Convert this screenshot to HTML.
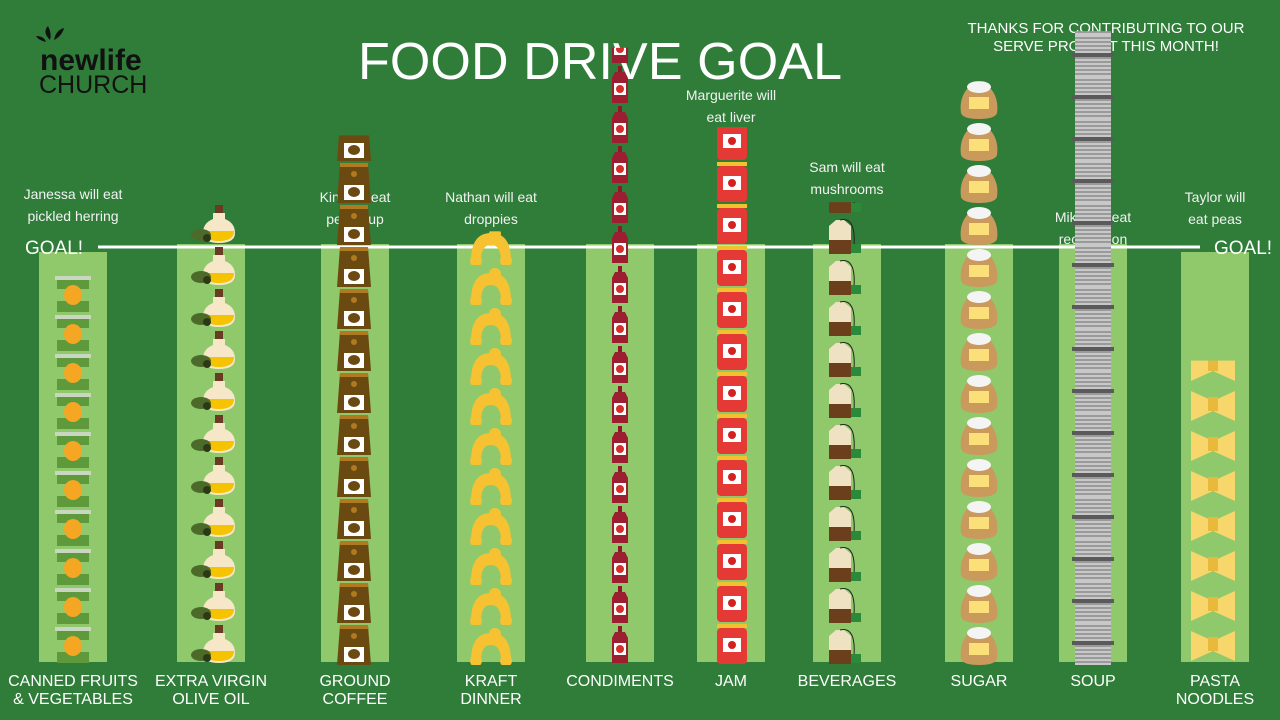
<!DOCTYPE html>
<html><head><meta charset="utf-8"><style>
html,body{margin:0;padding:0;background:#2f7d39;}
svg{display:block;}
text{font-family:"Liberation Sans",sans-serif;}
</style></head><body>
<svg id="chart" width="1280" height="720" viewBox="0 0 1280 720" xmlns="http://www.w3.org/2000/svg">
<defs>
 <pattern id="p0" patternUnits="userSpaceOnUse" width="68" height="39" y="0"><rect x="18" y="3" width="32" height="34" fill="#5e9a3c"/><rect x="18" y="14" width="32" height="12" fill="#8fc96b"/><ellipse cx="34" cy="20" rx="9" ry="10" fill="#f5a623"/><rect x="16" y="1" width="36" height="4" fill="#c9d6c0"/></pattern>
 <pattern id="p1" patternUnits="userSpaceOnUse" width="68" height="42"><rect x="38" y="2" width="8" height="8" fill="#6b3a22"/><path d="M36 10h12v6q10 4 10 14q0 10 -16 10q-16 0 -16 -10q0 -10 10 -14z" fill="#f6e7c8"/><path d="M27 28h30q0 10 -15 10q-15 0 -15 -10z" fill="#f5c300"/><ellipse cx="24" cy="32" rx="10" ry="6" fill="#4c6b2a"/><circle cx="30" cy="35" r="4" fill="#2b3a14"/></pattern>
 <pattern id="p2" patternUnits="userSpaceOnUse" width="68" height="42"><path d="M19 2h28l3 40h-34z" fill="#6b4a12"/><rect x="19" y="2" width="28" height="4" fill="#b07a20"/><circle cx="33" cy="13" r="3" fill="#b07a20"/><rect x="23" y="24" width="20" height="15" fill="#fff"/><ellipse cx="33" cy="31" rx="6" ry="5" fill="#6b4a12"/></pattern>
 <pattern id="p3" patternUnits="userSpaceOnUse" width="68" height="40"><path d="M14 36q0 -28 20 -28q20 0 20 28h-10q0 -16 -10 -16q-10 0 -10 16z" fill="#f6c232"/><circle cx="19" cy="36" r="6" fill="#f6c232"/><circle cx="49" cy="36" r="6" fill="#f6c232"/><circle cx="38" cy="9" r="6" fill="#f6c232"/></pattern>
 <pattern id="p4" patternUnits="userSpaceOnUse" width="68" height="40"><rect x="32" y="1" width="4" height="6" fill="#8b1a2b"/><path d="M29 7h10l3 6v25h-16v-25z" fill="#9c1f31"/><rect x="28" y="18" width="12" height="12" fill="#fff"/><circle cx="34" cy="24" r="4" fill="#d62c2c"/></pattern>
 <pattern id="p5" patternUnits="userSpaceOnUse" width="68" height="42"><rect x="20" y="1" width="30" height="4" fill="#f2c12e"/><rect x="20" y="5" width="30" height="36" rx="4" fill="#e53935"/><rect x="26" y="15" width="18" height="14" fill="#fff"/><circle cx="35" cy="22" r="4" fill="#d32020"/></pattern>
 <pattern id="p6" patternUnits="userSpaceOnUse" width="68" height="41"><path d="M16 12l7 -6h8l7 6v28h-22z" fill="#efe2c2"/><rect x="16" y="26" width="22" height="14" fill="#6b3f1c"/><path d="M27 6q16 -4 14 26" stroke="#222" fill="none" stroke-width="1"/><rect x="38" y="30" width="10" height="9" fill="#2a8a3a"/></pattern>
 <pattern id="p7" patternUnits="userSpaceOnUse" width="68" height="42"><path d="M22 12h24q8 10 6 24q-2 6 -18 6q-16 0 -18 -6q-2 -14 6 -24z" fill="#c99a5c"/><ellipse cx="34" cy="10" rx="12" ry="6" fill="#f4f4f4"/><rect x="24" y="20" width="20" height="12" fill="#fbe07a"/></pattern>
 <pattern id="p8" patternUnits="userSpaceOnUse" width="68" height="42"><rect x="16" y="0" width="36" height="42" fill="#9a9a9a"/><rect x="16" y="0" width="36" height="42" fill="url(#stripes)"/><rect x="13" y="18" width="42" height="4" fill="#5a5a5a"/></pattern>
 <pattern id="stripes" patternUnits="userSpaceOnUse" width="4" height="4"><rect width="4" height="2" fill="#c8c8c8"/></pattern>
 <pattern id="p9" patternUnits="userSpaceOnUse" width="68" height="40"><path d="M10 6l22 10l22 -10v30l-22 -10l-22 10z" fill="#f7d66b"/><rect x="27" y="12" width="10" height="14" fill="#e8b93a"/></pattern>
</defs>
<rect width="1280" height="720" fill="#2f7d39"/>
<g>
 <path d="M50 40q-8 -8 -2 -14q4 8 2 14zm4 0q2 -10 10 -12q-2 8 -10 12zm-8 2q-8 -2 -10 -6q8 0 10 6z" fill="#111"/>
 <text x="40" y="70" font-size="30" font-weight="bold" fill="#111">newlife</text>
 <text x="39" y="93" font-size="25" fill="#111">CHURCH</text>
</g>
<text x="600" y="79" font-size="52" fill="#fff" text-anchor="middle" textLength="484">FOOD DRIVE GOAL</text>
<text x="1106" y="33" font-size="15" fill="#fff" text-anchor="middle">THANKS FOR CONTRIBUTING TO OUR</text>
<text x="1106" y="51" font-size="15" fill="#fff" text-anchor="middle">SERVE PROJECT THIS MONTH!</text>
<g id="bgbars"></g>
<line x1="98" y1="247" x2="1200" y2="247" stroke="#fff" stroke-width="3"/>
<text x="25" y="254" font-size="19" fill="#fff">GOAL!</text>
<text x="1214" y="254" font-size="19" fill="#fff">GOAL!</text>
<g id="stacks"></g>
<g id="labels"></g>
</svg>
<script>
const categories = ["CANNED FRUITS|& VEGETABLES","EXTRA VIRGIN|OLIVE OIL","GROUND|COFFEE","KRAFT|DINNER","CONDIMENTS","JAM","BEVERAGES","SUGAR","SOUP","PASTA|NOODLES"];
const itemsDonated = [9.4, 11.1, 12.7, 10.4, 14.8, 12.9, 11.1, 14.0, 15.2, 7.3];
const goalItems = [10, 10, 10, 10, 10, 10, 10, 10, 10, 10];
const pledges = ["Janessa will eat|pickled herring","","Kim will eat|pea soup","Nathan will eat|droppies","","Marguerite will|eat liver","Sam will eat|mushrooms","","Mike will eat|rec salmon","Taylor will|eat peas"];

const svg = document.getElementById('chart');
const NS = 'http://www.w3.org/2000/svg';
const centers = [73,211,355,491,620,731,847,979,1093,1215];
const baseY = 665, unit = 41.7;
function yScale(v){ return baseY - v*unit; }
function mk(t, a){ const e=document.createElementNS(NS,t); for(const k in a) e.setAttribute(k,a[k]); return e; }
const bg=document.getElementById('bgbars'), st=document.getElementById('stacks'), lb=document.getElementById('labels');
categories.forEach((c,i)=>{
  const cx=centers[i];
  const b=mk('rect',{x:cx-34,y:yScale(goalItems[i])-4+(i===0||i===9?8:0),width:68,height:baseY-yScale(goalItems[i])+4-(i===0||i===9?8:0)-3,fill:'#8fc96b'});
  
  
  bg.appendChild(b);
  const top=yScale(itemsDonated[i]);
  const pat=document.getElementById('p'+i);
  pat.setAttribute('x',cx-34);
  pat.setAttribute('y',baseY);
  const s=mk('rect',{x:cx-34,y:top,width:68,height:baseY-top,fill:'url(#p'+i+')'});
  
  
  st.appendChild(s);
  const lines=c.split('|');
  lines.forEach((l,j)=>{
    const t=mk('text',{x:cx,y:686+j*18,'font-size':16,fill:'#fff','text-anchor':'middle'});
    t.textContent=l;
    
    
    lb.appendChild(t);
  });
  if(pledges[i]){
    const pl=pledges[i].split('|');
    const py=[199,0,202,202,0,100,172,0,222,202][i];
    pl.forEach((l,j)=>{
      const t=mk('text',{x:cx,y:py+j*22,'font-size':14,fill:'#f2f2f2','text-anchor':'middle'});
      t.textContent=l;
      
      
      st.parentNode.insertBefore(t,st);
    });
  }
});
</script>
</body></html>
